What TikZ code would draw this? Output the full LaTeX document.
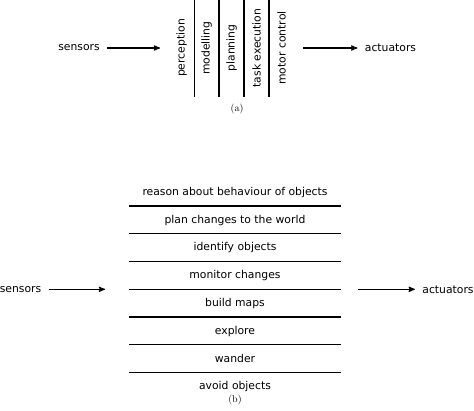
\documentclass[tikz,border=0pt]{standalone}
\usepackage{fontspec}
\newfontfamily\labelfont{DejaVu Sans}
\usetikzlibrary{arrows,positioning}

\begin{document}
\begin{tikzpicture}[x=1pt,y=-1pt,>=stealth',font=\labelfont\fontsize{10.8}{13}\selectfont]
  \useasboundingbox (0,0) rectangle (474,410);
  \tikzstyle{layer}=[inner sep=0pt]
  \tikzstyle{sep line}=[line width=1.2pt]
  \tikzstyle{flow}=[->,line width=1.2pt,shorten <=4pt,shorten >=4pt]
  \tikzstyle{caption}=[font=\rmfamily\normalsize]
  \begin{scope}
    % horizontal decomposition
    \node(sensA) at (79,48) {sensors};
    \node(actA) at (390.5,48) {actuators};
    \foreach \name/\txt [count=\i] in {perc/perception,model/modelling,plan/planning,task/task execution,motor/motor control}
      \node[layer,rotate=90](\name) at (156.7+25*\i,48) {\txt};
    \foreach \x in {194.3,219,244,269}
      \draw[sep line] (\x,0) -- (\x,96.7);
    \coordinate(inA) at (164,48);
    \coordinate(outA) at (299,48);
    \draw[flow] (sensA) -- (inA);
    \draw[flow] (outA) -- (actA);
    \node[caption](capA) at (237,109) {(a)};
  \end{scope}

  \begin{scope}
    % vertical decomposition
    \foreach \txt [count=\i] in {reason about behaviour of objects,plan changes to the world,identify objects,monitor changes,build maps,explore,wander,avoid objects}
      \node(beh\i) at (235,164.5+27.77*\i) {\txt};
    \foreach \i in {1,...,7}
      \draw[sep line] (129.3,178.2+27.77*\i) -- (341.3,178.2+27.77*\i);
    \node(sensB) at (20.5,289.3) {sensors};
    \node(actB) at (448,289.3) {actuators};
    \coordinate(inB) at (109,289.3);
    \coordinate(outB) at (354,289.3);
    \draw[flow] (sensB) -- (inB);
    \draw[flow] (outB) -- (actB);
    \node[caption](capB) at (235,400) {(b)};
  \end{scope}
\end{tikzpicture}
\end{document}
